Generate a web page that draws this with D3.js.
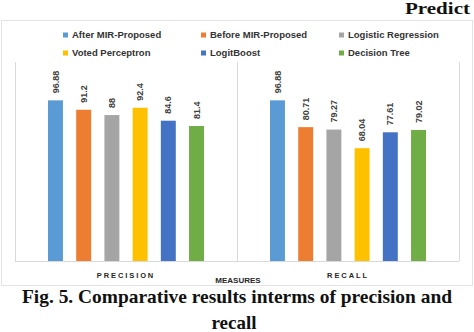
<!DOCTYPE html>
<html>
<head>
<meta charset="utf-8">
<script src="https://cdnjs.cloudflare.com/ajax/libs/d3/7.8.5/d3.min.js"></script>
<style>
  body { margin: 0; background: #fff; }
  svg { display: block; }
</style>
</head>
<body>
<svg id="chart" width="474" height="332"></svg>
<script>
// chart data
var measures = ["PRECISION", "RECALL"];
var methods = ["After MIR-Proposed", "Before MIR-Proposed", "Logistic Regression",
               "Voted Perceptron", "LogitBoost", "Decision Tree"];
var precision = [96.88, 91.2, 88, 92.4, 84.6, 81.4];
var recall = [96.88, 80.71, 79.27, 68.04, 77.61, 79.02];
var valueLabels = [["96.88", "91.2", "88", "92.4", "84.6", "81.4"],
                   ["96.88", "80.71", "79.27", "68.04", "77.61", "79.02"]];
var colors = ["#5B9BD5", "#ED7D31", "#A5A5A5", "#FFC000", "#4472C4", "#70AD47"];

var svg = d3.select("#chart");
var plotLeft = 15, plotRight = 459, plotTop = 62, plotBottom = 261;
var gridColor = "#d9d9d9";
var labelFont = "'Liberation Sans', Arial, sans-serif";
var serif = "'Liberation Serif', 'Times New Roman', serif";

// stray heading from the page above
svg.append("text")
    .attr("x", 405).attr("y", 14)
    .attr("font-family", serif).attr("font-weight", "bold")
    .attr("font-size", 16).attr("fill", "#111")
    .attr("textLength", 65).attr("lengthAdjust", "spacingAndGlyphs")
    .text("Predict");

// outer chart box
svg.append("rect")
    .attr("x", 1.5).attr("y", 20.5)
    .attr("width", 471).attr("height", 265)
    .attr("fill", "none").attr("stroke", "#e3e3e3");

var x0 = d3.scaleBand().domain(measures).range([plotLeft, plotRight]);
var x1 = d3.scaleBand().domain(methods).range([0, x0.bandwidth()])
    .paddingInner(0.47).paddingOuter(1.17);
var y = d3.scaleLinear().domain([0, 120]).range([plotBottom, plotTop]);

// category separators
svg.append("g").selectAll("line")
    .data([plotLeft].concat(measures.map(function(m) { return x0(m) + x0.bandwidth(); })))
    .enter().append("line")
    .attr("x1", function(d) { return d + 0.5; })
    .attr("x2", function(d) { return d + 0.5; })
    .attr("y1", plotTop).attr("y2", plotBottom)
    .attr("stroke", gridColor);

var series = [precision, recall];
measures.forEach(function(m, mi) {
    var g = svg.append("g").attr("transform", "translate(" + x0(m) + ",0)");
    g.selectAll("rect")
        .data(series[mi])
        .enter().append("rect")
        .attr("x", function(d, i) { return x1(methods[i]); })
        .attr("y", function(d) { return y(d); })
        .attr("width", x1.bandwidth())
        .attr("height", function(d) { return plotBottom - y(d); })
        .attr("fill", function(d, i) { return colors[i]; });
    g.selectAll("text")
        .data(series[mi])
        .enter().append("text")
        .attr("transform", function(d, i) {
            var cx = x1(methods[i]) + x1.bandwidth() / 2;
            return "translate(" + cx + "," + (y(d) - 7) + ") rotate(-90)";
        })
        .attr("dy", "0.35em")
        .attr("font-family", labelFont).attr("font-weight", "bold")
        .attr("font-size", 9).attr("fill", "#404040")
        .text(function(d, i) { return valueLabels[mi][i]; });
});

// x axis
var xAxis = d3.axisBottom(x0).tickSize(0).tickPadding(0);
var ax = svg.append("g")
    .attr("transform", "translate(0," + (plotBottom + 0.5) + ")")
    .call(xAxis);
ax.select(".domain").attr("stroke", gridColor).attr("d", "M" + plotLeft + ",0H" + plotRight);
ax.selectAll("text")
    .attr("y", 16).attr("dy", 0)
    .attr("font-family", labelFont).attr("font-weight", "bold")
    .attr("font-size", 7.5).attr("fill", "#262626")
    .attr("letter-spacing", "1.9px");

svg.append("text")
    .attr("x", 238).attr("y", 283)
    .attr("text-anchor", "middle")
    .attr("font-family", labelFont).attr("font-weight", "bold")
    .attr("font-size", 8).attr("fill", "#262626")
    .text("MEASURES");

// legend
var legendX = [63, 201, 339], legendY = [35, 53];
var legend = svg.append("g").selectAll("g")
    .data(methods)
    .enter().append("g")
    .attr("transform", function(d, i) {
        return "translate(" + legendX[i % 3] + "," + legendY[Math.floor(i / 3)] + ")";
    });
legend.append("rect")
    .attr("x", 0).attr("y", -2.5)
    .attr("width", 5).attr("height", 5)
    .attr("fill", function(d, i) { return colors[i]; });
legend.append("text")
    .attr("x", 9).attr("y", 0).attr("dy", "0.35em")
    .attr("font-family", labelFont).attr("font-weight", "bold")
    .attr("font-size", 9.5).attr("fill", "#333")
    .text(function(d) { return d; });

// caption
svg.append("text")
    .attr("x", 237).attr("y", 303)
    .attr("text-anchor", "middle")
    .attr("font-family", serif).attr("font-weight", "bold")
    .attr("font-size", 19).attr("fill", "#111")
    .attr("textLength", 430).attr("lengthAdjust", "spacingAndGlyphs")
    .text("Fig. 5. Comparative results interms of precision and");
svg.append("text")
    .attr("x", 234).attr("y", 329)
    .attr("text-anchor", "middle")
    .attr("font-family", serif).attr("font-weight", "bold")
    .attr("font-size", 19).attr("fill", "#111")
    .text("recall");
</script>
</body>
</html>
